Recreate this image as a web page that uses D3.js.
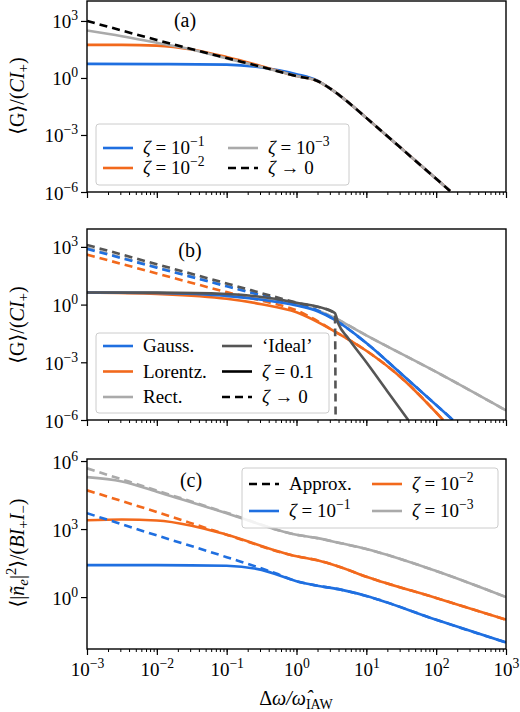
<!DOCTYPE html>
<html><head><meta charset="utf-8">
<script src="https://cdn.jsdelivr.net/npm/d3@7"></script>
<style>body{margin:0;background:#fff}text{font-family:"Liberation Serif","DejaVu Serif",serif}</style>
</head><body><svg id="c" width="520" height="712"></svg>
<script>
// values are stored as [log10 x, log10 y]
const BLUE = '#1f6fe0', ORANGE = '#f2691c', GRAY = '#aaaaaa', DARK = '#555555';

const aLimit = [[-3, 3.0], [-2, 2.0], [-1, 1.05], [-0.5, 0.58], [0, 0.1], [0.3, -0.16], [0.5, -0.6], [0.77, -1.37], [1, -2.1], [1.5, -3.7], [2.2, -5.95]];
const aZ3 = [[-3, 2.5], [-2.5, 2.2], [-2, 1.85], [-1.5, 1.5], [-1, 1.03], [-0.5, 0.58], [0, 0.1], [0.3, -0.16], [0.5, -0.6], [0.77, -1.37], [1, -2.1], [1.5, -3.7], [2.2, -5.95]];
const aZ2 = [[-3, 1.74], [-2.5, 1.74], [-2, 1.7], [-1.5, 1.5], [-1, 1.1], [-0.5, 0.62], [0, 0.1], [0.3, -0.16], [0.5, -0.6], [0.77, -1.37], [1, -2.1], [1.5, -3.7], [2.2, -5.95]];
const aZ1 = [[-3, 0.74], [-2, 0.73], [-1, 0.7], [-0.5, 0.55], [0, 0.2], [0.3, -0.14], [0.5, -0.6], [0.77, -1.37], [1, -2.1], [1.5, -3.7], [2.2, -5.95]];

const bIdealDash = [[-3, 3.1], [-2, 2.1], [-1, 1.1], [0, 0.1], [0.55, -0.42], [0.56, -6]];
const bGaussDash = [[-3, 2.9], [-2, 1.92], [-1, 0.95], [0, 0.0], [0.3, -0.3], [0.55, -0.8], [1, -2.0], [1.5, -3.6], [2.24, -6]];
const bLorDash = [[-3, 2.6], [-2, 1.62], [-1, 0.65], [-0.5, 0.2], [0, -0.3], [0.55, -1.4], [1, -2.4], [1.5, -3.8], [2.1, -6]];
const bRectDash = [[-3, 2.95], [-2, 1.95], [-1, 0.98], [0, 0.02], [0.3, -0.3], [0.55, -0.7], [1, -1.6], [2, -3.5], [3, -5.5]];
const bIdeal = [[-3, 0.63], [-2, 0.62], [-1, 0.55], [0, 0.1], [0.5, -0.35], [0.55, -0.45], [0.6, -1.0], [0.73, -1.7], [1, -3.0], [1.3, -4.5], [1.6, -6]];
const bGauss = [[-3, 0.63], [-2, 0.6], [-1, 0.45], [-0.5, 0.25], [0, -0.05], [0.3, -0.35], [0.55, -0.8], [1, -2.0], [1.5, -3.6], [2.24, -6]];
const bLor = [[-3, 0.63], [-2, 0.55], [-1, 0.3], [-0.5, 0.02], [0, -0.4], [0.55, -1.4], [1, -2.4], [1.5, -3.8], [2.1, -6]];
const bRect = [[-3, 0.63], [-2, 0.6], [-1, 0.45], [0, 0.0], [0.3, -0.3], [0.55, -0.7], [1, -1.6], [2, -3.5], [3, -5.5]];

const cApprox1 = [[-3, 3.7], [-2, 2.72], [-1, 1.76], [-0.3, 1.05], [0, 0.7], [0.3, 0.5], [0.6, 0.35], [1, 0.05], [2, -1.0], [3, -2.0]];
const cZ1 = [[-3, 1.41], [-2, 1.41], [-1, 1.38], [-0.5, 1.2], [0, 0.7], [0.3, 0.5], [0.6, 0.35], [1, 0.05], [2, -1.0], [3, -2.0]];
const cApprox2 = [[-3, 4.71], [-2, 3.75], [-1.3, 3.05], [-1, 2.75], [0, 1.8], [0.3, 1.62], [0.6, 1.35], [1, 0.9], [2, -0.04], [3, -1.0]];
const cZ2 = [[-3, 3.39], [-2.5, 3.42], [-2, 3.38], [-1.5, 3.15], [-1, 2.75], [0, 1.8], [0.3, 1.62], [0.6, 1.35], [1, 0.9], [2, -0.04], [3, -1.0]];
const cApprox3 = [[-3, 5.68], [-2, 4.7], [-1, 3.72], [0, 2.75], [0.3, 2.6], [0.6, 2.4], [1, 2.12], [2, 1.15], [3, 0.0]];
const cZ3 = [[-3, 5.29], [-2.5, 5.1], [-2, 4.65], [-1, 3.7], [0, 2.75], [0.3, 2.6], [0.6, 2.4], [1, 2.12], [2, 1.15], [3, 0.0]];

const xTicks = [-3, -2, -1, 0, 1, 2, 3];
const yTicksAB = [-6, -3, 0, 3];
const yTicksC = [0, 3, 6];

const svg = d3.select('#c');
const x = d3.scaleLog().domain([1e-3, 1e3]).range([87, 506]);

function sup(sel, base, exp) {
  sel.append('tspan').text(base);
  sel.append('tspan').attr('dy', -8).attr('font-size', '0.72em').text(exp);
}
function pow(k) { return String(k).replace('-', '\u2212'); }

function panel(top, bottom, yDom, yTicks, showX) {
  const y = d3.scaleLog().domain(yDom).range([bottom, top]);
  const g = svg.append('g');
  g.append('g').attr('transform', `translate(0,${bottom})`)
    .call(d3.axisBottom(x).tickValues(d3.range(-3, 3).flatMap(k => d3.range(1, 10).map(m => m * Math.pow(10, k))).concat([1e3]))
      .tickSize(3).tickFormat(''))
    .call(a => a.select('.domain').remove());
  const xa = g.append('g').attr('transform', `translate(0,${bottom})`)
    .call(d3.axisBottom(x).tickValues(xTicks.map(k => Math.pow(10, k))).tickSize(6).tickFormat(''));
  xa.select('.domain').remove();
  xa.selectAll('line').attr('stroke-width', 1.2);
  if (showX) {
    xa.selectAll('.tick').each(function (d, i) {
      const t = d3.select(this).append('text').attr('y', 27).attr('fill', '#000')
        .attr('font-size', 19).attr('text-anchor', 'middle');
      sup(t, '10', pow(xTicks[i]));
    });
  }
  const ya = g.append('g').attr('transform', 'translate(87,0)')
    .call(d3.axisLeft(y).tickValues(yTicks.map(k => Math.pow(10, k))).tickSize(6).tickFormat(''));
  ya.select('.domain').remove();
  ya.selectAll('line').attr('stroke-width', 1.2);
  ya.selectAll('.tick').each(function (d, i) {
    const t = d3.select(this).append('text').attr('x', -9).attr('dy', 7).attr('fill', '#000')
      .attr('font-size', 19).attr('text-anchor', 'end');
    sup(t, '10', pow(yTicks[i]));
  });
  g.append('defs').append('clipPath').attr('id', 'cl' + top)
    .append('rect').attr('x', 87).attr('y', top).attr('width', 419).attr('height', bottom - top);
  const plot = g.append('g').attr('clip-path', `url(#cl${top})`);
  const line = d3.line().x(d => x(Math.pow(10, d[0]))).y(d => y(Math.pow(10, d[1]))).curve(d3.curveMonotoneX);
  function draw(data, color, dash) {
    plot.append('path').datum(data).attr('d', line).attr('fill', 'none')
      .attr('stroke', color).attr('stroke-width', 2.6).attr('stroke-dasharray', dash ? '8,5' : null);
  }
  g.append('rect').attr('x', 87).attr('y', top).attr('width', 419).attr('height', bottom - top)
    .attr('fill', 'none').attr('stroke', '#000').attr('stroke-width', 1.4).attr('class', 'frame');
  return { g, draw };
}

function legend(g, bx, by, w, h, cols) {
  g.append('rect').attr('x', bx).attr('y', by).attr('width', w).attr('height', h).attr('rx', 3)
    .attr('fill', 'rgba(255,255,255,0.85)').attr('stroke', '#ccc');
  cols.forEach(c => c.items.forEach((it, i) => {
    const yy = by + c.y0 + i * c.dy;
    g.append('line').attr('x1', c.x).attr('x2', c.x + 30).attr('y1', yy).attr('y2', yy)
      .attr('stroke', it.color).attr('stroke-width', 2.6).attr('stroke-dasharray', it.dash ? '8,5' : null);
    const t = g.append('text').attr('x', c.x + 40).attr('y', yy + 6).attr('font-size', 19);
    it.label(t);
  }));
}
function zeta(t, rest) { t.append('tspan').attr('font-style', 'italic').text('\u03b6'); t.append('tspan').text(rest); }
function zpow(k) { return t => { zeta(t, ' = 10'); t.append('tspan').attr('dy', -8).attr('font-size', '0.72em').text(pow(k)); }; }

function ylab(cx, cy, build) {
  const t = svg.append('text').attr('transform', `translate(${cx},${cy}) rotate(-90)`)
    .attr('text-anchor', 'middle').attr('font-size', 20);
  build(t);
}
function gci(t) {
  t.append('tspan').text('\u27e8G\u27e9/(');
  t.append('tspan').attr('font-style', 'italic').text('CI');
  t.append('tspan').attr('dy', 4).attr('font-size', '0.75em').text('+');
  t.append('tspan').attr('dy', -4).text(')');
}

// panel (a)
const A = panel(1, 192, [Math.pow(10, -6), Math.pow(10, 4.05)], yTicksAB, false);
A.draw(aZ1, BLUE); A.draw(aZ2, ORANGE); A.draw(aZ3, GRAY); A.draw(aLimit, '#000', true);
A.g.select('.frame').raise();
svg.append('text').attr('x', 185).attr('y', 27).attr('font-size', 20).attr('text-anchor', 'middle').text('(a)');
legend(svg, 96, 124, 253, 61, [
  { x: 103, y0: 24, dy: 20, items: [{ color: BLUE, label: zpow(-1) }, { color: ORANGE, label: zpow(-2) }] },
  { x: 228, y0: 24, dy: 20, items: [{ color: GRAY, label: zpow(-3) }, { color: '#000', dash: true, label: t => zeta(t, ' \u2192 0') }] }
]);
ylab(24, 96, gci);

// panel (b)
const B = panel(229, 420, [Math.pow(10, -6), Math.pow(10, 3.93)], yTicksAB, false);
B.draw(bRectDash, GRAY, true); B.draw(bRect, GRAY);
B.draw(bLorDash, ORANGE, true); B.draw(bLor, ORANGE);
B.draw(bGaussDash, BLUE, true); B.draw(bGauss, BLUE);
B.draw(bIdealDash, DARK, true); B.draw(bIdeal, DARK);
B.g.select('.frame').raise();
svg.append('text').attr('x', 190).attr('y', 257).attr('font-size', 20).attr('text-anchor', 'middle').text('(b)');
legend(svg, 96, 333, 233, 80, [
  { x: 103, y0: 13, dy: 25.5, items: [
    { color: BLUE, label: t => t.text('Gauss.') },
    { color: ORANGE, label: t => t.text('Lorentz.') },
    { color: GRAY, label: t => t.text('Rect.') }] },
  { x: 222, y0: 13, dy: 25.5, items: [
    { color: DARK, label: t => t.text('\u2018Ideal\u2019') },
    { color: '#000', label: t => zeta(t, ' = 0.1') },
    { color: '#000', dash: true, label: t => zeta(t, ' \u2192 0') }] }
]);
ylab(24, 325, gci);

// panel (c)
const C = panel(459, 649, [Math.pow(10, -2.29), Math.pow(10, 6.09)], yTicksC, true);
C.draw(cApprox3, GRAY, true); C.draw(cZ3, GRAY);
C.draw(cApprox2, ORANGE, true); C.draw(cZ2, ORANGE);
C.draw(cApprox1, BLUE, true); C.draw(cZ1, BLUE);
C.g.select('.frame').raise();
svg.append('text').attr('x', 191).attr('y', 487).attr('font-size', 20).attr('text-anchor', 'middle').text('(c)');
legend(svg, 242, 468, 256, 60, [
  { x: 249, y0: 16, dy: 27, items: [
    { color: '#000', dash: true, label: t => t.text('Approx.') },
    { color: BLUE, label: zpow(-1) }] },
  { x: 372, y0: 16, dy: 27, items: [
    { color: ORANGE, label: zpow(-2) },
    { color: GRAY, label: zpow(-3) }] }
]);
ylab(24, 553, t => {
  t.append('tspan').text('\u27e8|');
  t.append('tspan').attr('font-style', 'italic').text('\u00f1');
  t.append('tspan').attr('dy', 4).attr('font-size', '0.75em').attr('font-style', 'italic').text('e');
  t.append('tspan').attr('dy', -4).text('|');
  t.append('tspan').attr('dy', -8).attr('font-size', '0.72em').text('2');
  t.append('tspan').attr('dy', 8).text('\u27e9/(');
  t.append('tspan').attr('font-style', 'italic').text('BI');
  t.append('tspan').attr('dy', 4).attr('font-size', '0.75em').text('+');
  t.append('tspan').attr('dy', -4).attr('font-style', 'italic').text('I');
  t.append('tspan').attr('dy', 4).attr('font-size', '0.75em').text('\u2212');
  t.append('tspan').attr('dy', -4).text(')');
});

// x label
const xl = svg.append('text').attr('x', 296).attr('y', 705).attr('text-anchor', 'middle').attr('font-size', 20);
xl.append('tspan').text('\u0394');
xl.append('tspan').attr('font-style', 'italic').text('\u03c9/\u03c9\u0302');
xl.append('tspan').attr('dy', 4).attr('font-size', '0.7em').text('IAW');
</script></body></html>
